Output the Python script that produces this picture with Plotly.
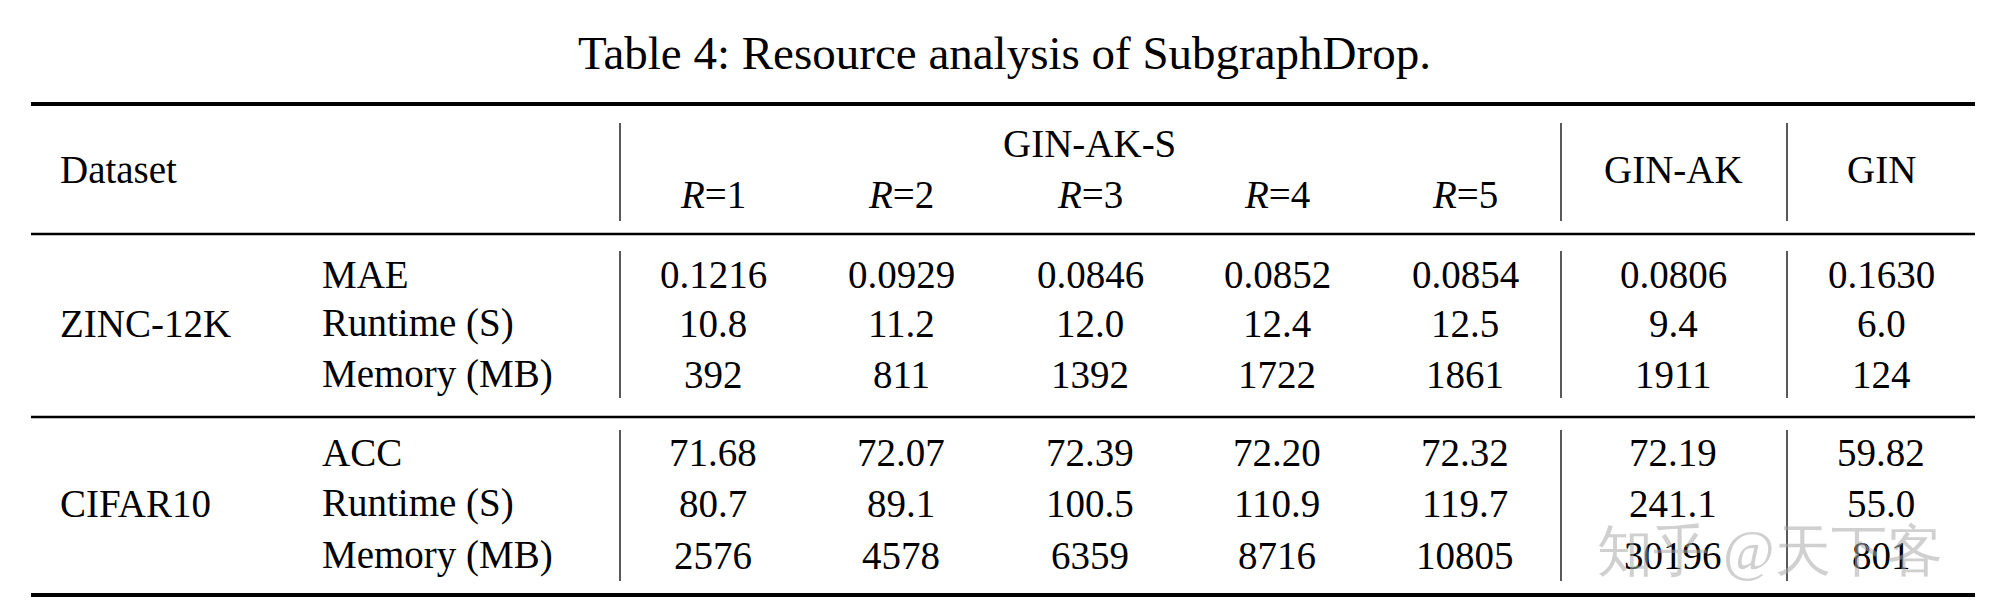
import plotly.graph_objects as go

# table content
title = "Table 4: Resource analysis of SubgraphDrop."
group_header = "GIN-AK-S"
r_labels = ["R=1", "R=2", "R=3", "R=4", "R=5"]
other_models = ["GIN-AK", "GIN"]
datasets = ["ZINC-12K", "CIFAR10"]
metrics = [["MAE", "Runtime (S)", "Memory (MB)"],
           ["ACC", "Runtime (S)", "Memory (MB)"]]
zinc_values = [
    ["0.1216", "0.0929", "0.0846", "0.0852", "0.0854", "0.0806", "0.1630"],
    ["10.8", "11.2", "12.0", "12.4", "12.5", "9.4", "6.0"],
    ["392", "811", "1392", "1722", "1861", "1911", "124"],
]
cifar_values = [
    ["71.68", "72.07", "72.39", "72.20", "72.32", "72.19", "59.82"],
    ["80.7", "89.1", "100.5", "110.9", "119.7", "241.1", "55.0"],
    ["2576", "4578", "6359", "8716", "10805", "30196", "801"],
]

W, H = 1992, 616
FONT = "Liberation Serif"
FS = 39
col_x = [705, 893, 1082, 1269, 1457, 1665, 1873]
row_y = [[266, 315, 366], [444, 495, 547]]
block_y = [315, 495]

fig = go.Figure()

def add_text(x, y, t, size=FS, anchor="center", color="black"):
    fig.add_annotation(x=x, y=y, text=t, showarrow=False, xanchor=anchor,
                       yanchor="middle", font=dict(family=FONT, size=size, color=color))

add_text(W / 2, 45, title, size=47)
add_text(50, 161, "Dataset", anchor="left")
add_text(sum(col_x[:5]) / 5, 135, group_header)
for x, r in zip(col_x[:5], r_labels):
    add_text(x, 186, "<i>R</i>=" + r.split("=")[1])
for x, m in zip(col_x[5:], other_models):
    add_text(x, 161, m)

for b, (ds, vals) in enumerate(zip(datasets, [zinc_values, cifar_values])):
    add_text(50, block_y[b], ds, anchor="left")
    for i, row in enumerate(vals):
        y = row_y[b][i]
        add_text(312, y, metrics[b][i], anchor="left")
        for x, v in zip(col_x, row):
            add_text(x, y, v)

# watermark
add_text(1762, 543, "知乎 @天下客", size=56, color="rgba(170,170,170,0.55)")

# rules
for y, w in [(96, 4), (226, 2.5), (409, 2.5), (587, 4)]:
    fig.add_shape(type="line", x0=23, x1=1967, y0=y, y1=y, line=dict(color="black", width=w))
for x in [612, 1553, 1779]:
    for y0, y1 in [(115, 213), (243, 390), (422, 573)]:
        fig.add_shape(type="line", x0=x, x1=x, y0=y0, y1=y1, line=dict(color="black", width=1.3))

fig.update_xaxes(range=[0, W], visible=False)
fig.update_yaxes(range=[H, 0], visible=False)
fig.update_layout(width=W, height=H, margin=dict(l=0, r=0, t=0, b=0),
                  plot_bgcolor="white", paper_bgcolor="white", showlegend=False)
fig.write_html("out.html")
